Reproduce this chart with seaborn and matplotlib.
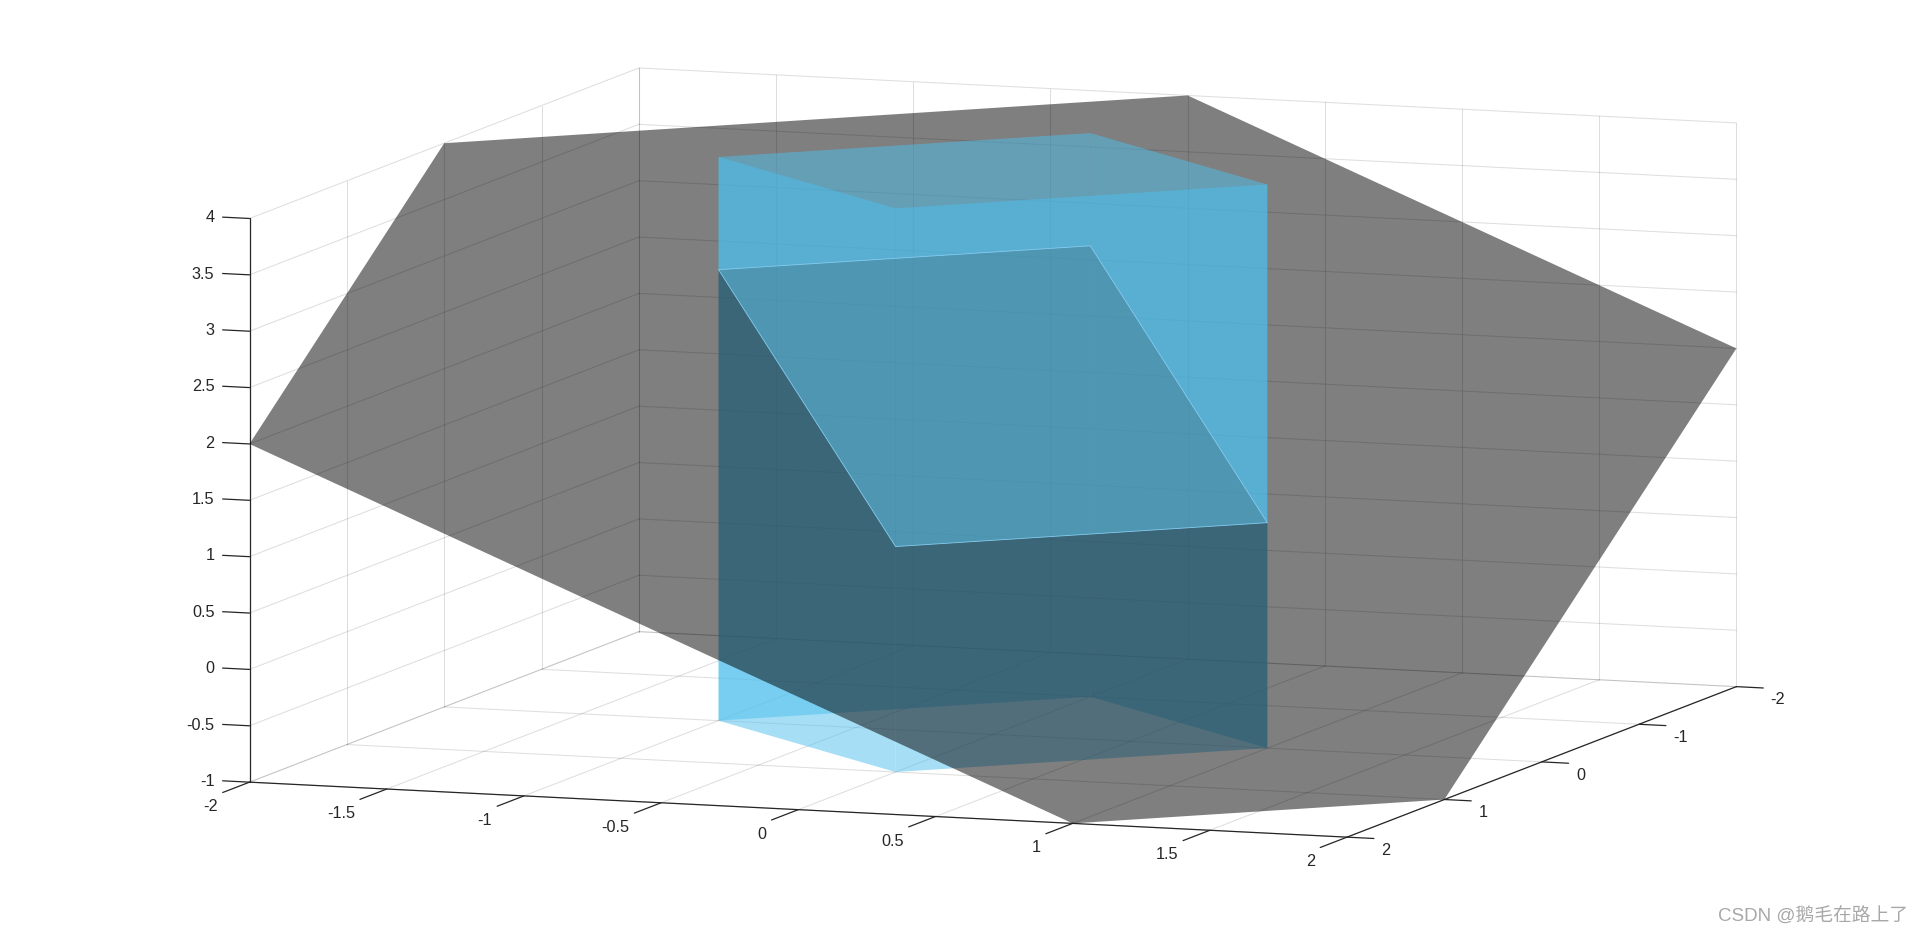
import numpy as np
import matplotlib
matplotlib.use('Agg')
import matplotlib.pyplot as plt
import seaborn as sns
from mpl_toolkits.mplot3d import proj3d
from mpl_toolkits.mplot3d.art3d import Poly3DCollection

sns.set_theme(style='white')
plt.rcParams['font.family'] = ['Liberation Sans', 'Noto Sans CJK SC', 'DejaVu Sans']

# plane x + y + z = 2 clipped to the box
plane_x = [-2, 0, 2, 2, 1, -2]
plane_y = [0, -2, -2, 1, 2, 2]
plane_z = [4, 4, 2, -1, -1, 2]

# tube around the diamond |x| + |y| <= 1
tube_x = [-1, 0, 1, 0]
tube_y = [0, -1, 0, 1]
tube_plane_z = [3, 3, 1, 1]
tube_bottom = -1
tube_top = 4

x_ticks = [-2, -1.5, -1, -0.5, 0, 0.5, 1, 1.5, 2]
x_labels = ['-2', '-1.5', '-1', '-0.5', '0', '0.5', '1', '1.5', '2']
y_ticks = [-2, -1, 0, 1, 2]
y_labels = ['-2', '-1', '0', '1', '2']
z_ticks = [-1, -0.5, 0, 0.5, 1, 1.5, 2, 2.5, 3, 3.5, 4]
z_labels = ['-1', '-0.5', '0', '0.5', '1', '1.5', '2', '2.5', '3', '3.5', '4']

BLUE = (0.3, 0.75, 0.93)
SEAM = (0.52, 0.8, 0.94)
INK = '#262626'

fig = plt.figure(figsize=(19.2, 9.37), dpi=100)
ax = fig.add_axes([7 / 1920, -502.5 / 937, 1, 1920 / 937], projection='3d', computed_zorder=False)
ax.set_proj_type('ortho')
ax.view_init(elev=8, azim=-70.2)
ax.set_xlim(-2, 2, view_margin=0)
ax.set_ylim(2, -2, view_margin=0)
ax.set_zlim(-1, 4, view_margin=0)
ax.set_box_aspect((1166, 1149, 569), zoom=0.8766)
# mplot3d cannot put the z ticks along x, so the axes are drawn by hand below
ax.set_axis_off()


def grid_line(xs, ys, zs):
    ax.plot(xs, ys, zs, color=(0.15, 0.15, 0.15), alpha=0.15, lw=0.75, zorder=0.2)


def axis_line(xs, ys, zs):
    ax.plot(xs, ys, zs, color=INK, lw=0.9, zorder=0.5)


def tick_text(x, y, z, label, ha):
    # project first, a Text3D keeps its raw data position until drawn
    px, py, _ = proj3d.proj_transform(x, y, z, ax.get_proj())
    ax.text2D(px, py, label, transform=ax.transData, ha=ha, va='center', fontsize=11.7, color=INK)


for t, lab in zip(x_ticks, x_labels):
    grid_line([t, t], [-2, 2], [-1, -1])
    grid_line([t, t], [-2, -2], [-1, 4])
    axis_line([t, t], [2, 2.275], [-1, -1])
    tick_text(t, 2.327, -1.1, lab, 'right')
for t, lab in zip(y_ticks, y_labels):
    grid_line([-2, 2], [t, t], [-1, -1])
    grid_line([-2, -2], [t, t], [-1, 4])
    axis_line([2, 2.098], [t, t], [-1, -1])
    tick_text(2.125, t, -1.093, lab, 'left')
for t, lab in zip(z_ticks, z_labels):
    grid_line([-2, -2], [-2, 2], [t, t])
    grid_line([-2, 2], [-2, -2], [t, t])
    axis_line([-2, -2.098], [2, 2], [t, t])
    tick_text(-2.128, 2, t, lab, 'right')

axis_line([-2, 2], [2, 2], [-1, -1])
axis_line([2, 2], [-2, 2], [-1, -1])
axis_line([-2, -2], [2, 2], [-1, 4])


def add_face(verts, color, alpha, order):
    poly = Poly3DCollection([verts], facecolors=[(*color, alpha)], edgecolors='none', linewidths=0, zorder=order)
    ax.add_collection3d(poly)


# faces below the plane sit behind it, faces above it in front
for i in range(4):
    j = (i + 1) % 4
    lower = [(tube_x[i], tube_y[i], tube_bottom), (tube_x[j], tube_y[j], tube_bottom),
             (tube_x[j], tube_y[j], tube_plane_z[j]), (tube_x[i], tube_y[i], tube_plane_z[i])]
    upper = [(tube_x[i], tube_y[i], tube_plane_z[i]), (tube_x[j], tube_y[j], tube_plane_z[j]),
             (tube_x[j], tube_y[j], tube_top), (tube_x[i], tube_y[i], tube_top)]
    add_face(lower, BLUE, 0.5, 1)
    add_face(upper, BLUE, 0.5, 3)
    # thin light seam where the tube cuts the plane
    ax.plot([tube_x[i], tube_x[j]], [tube_y[i], tube_y[j]], [tube_plane_z[i], tube_plane_z[j]],
            color=SEAM, lw=0.6, zorder=4)

add_face(list(zip(plane_x, plane_y, plane_z)), (0, 0, 0), 0.5, 2)

fig.text(1908 / 1920, 1 - 917 / 937, 'CSDN @鹅毛在路上了', ha='right', va='center',
         fontsize=13.5, color='#a8a8a8')

fig.savefig('out.png', dpi=100)
